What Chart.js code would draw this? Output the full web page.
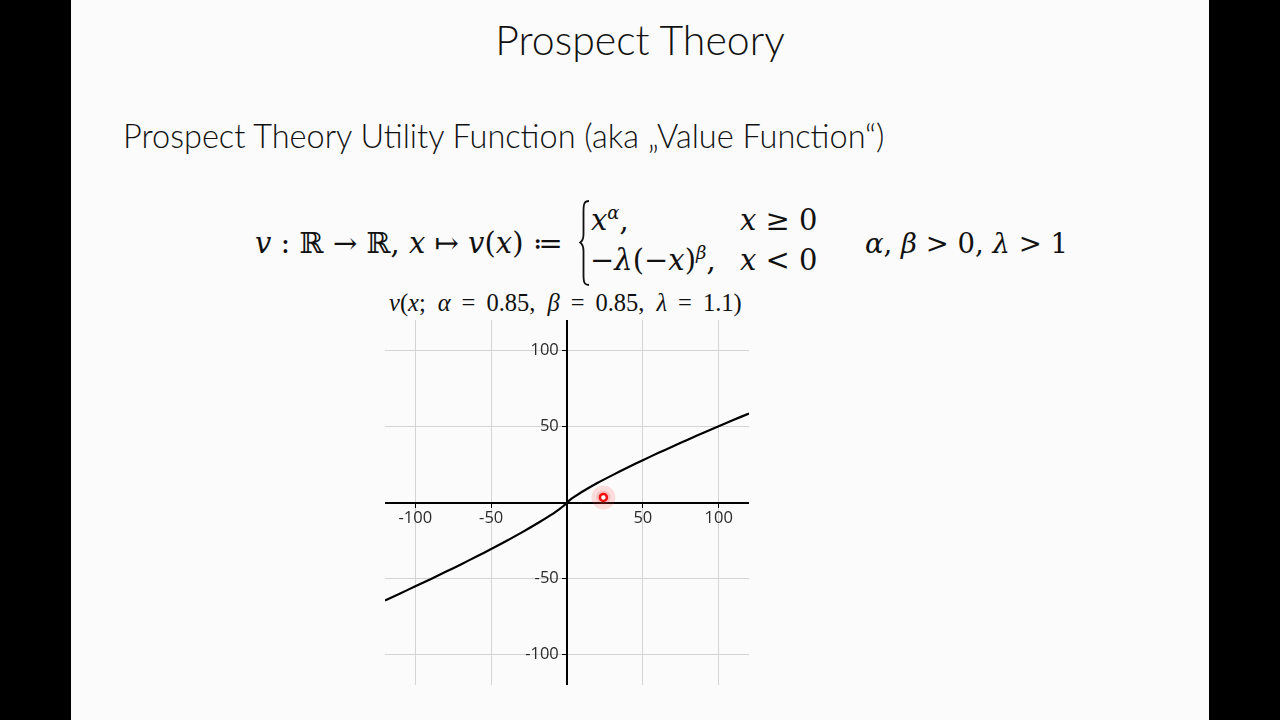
<!DOCTYPE html>
<html>
<head>
<meta charset="utf-8">
<script src="https://cdn.jsdelivr.net/npm/chart.js@4.4.1/dist/chart.umd.min.js"></script>
<style>
  html, body { margin:0; padding:0; width:1280px; height:720px; background:#000; overflow:hidden; }
  #slide { position:absolute; left:71px; top:0; width:1138px; height:720px; background:#fafbfa; }
  .t { position:absolute; white-space:nowrap; color:#111; }
  #title { left:0; width:1280px; text-align:center; top:15px; font-family:Lato, "Open Sans", sans-serif; font-weight:300; font-size:41px; }
  #sub { left:123px; top:116px; font-family:Lato, "Open Sans", sans-serif; font-weight:300; font-size:32.5px; }
  .m { font-family:"DejaVu Serif", "Liberation Serif", serif; font-size:29px; font-style:italic; }
  .up { font-style:normal; }
  sup { font-size:0.62em; vertical-align:0.62em; line-height:0; }
  #ctitle { left:389px; top:289px; font-family:"Liberation Serif", "DejaVu Serif", serif; font-size:24.5px; }
  #ctitle .eq { margin:0 11px; }
  #ctitle .c { margin-right:12px; }
  #cv { position:absolute; left:385px; top:320px; }
</style>
</head>
<body>
<div id="slide"></div>
<div class="t" id="title">Prospect Theory</div>
<div class="t" id="sub">Prospect Theory Utility Function (aka „Value Function“)</div>

<div class="t m" style="left:255px; top:226px;">v <span class="up">:</span> <span class="up">ℝ</span> <span class="up">→</span> <span class="up">ℝ</span><span class="up">,</span> x <span class="up">↦</span> v<span class="up">(</span>x<span class="up">)</span> <span class="up">≔</span></div>
<svg style="position:absolute; left:579px; top:200px;" width="12" height="86" viewBox="0 0 12 86">
  <path d="M10,1 C5,1 4.5,4 4.5,12 L4.5,34 C4.5,39 3.5,41 1.2,42.5 C3.5,44 4.5,46 4.5,51 L4.5,74 C4.5,82 5,85 10,85" fill="none" stroke="#111" stroke-width="1.8"/>
</svg>
<div class="t m" style="left:591px; top:203px;">x<sup>α</sup><span class="up">,</span></div>
<div class="t m" style="left:740px; top:203px;">x <span class="up">≥ 0</span></div>
<div class="t m" style="left:590px; top:243px;"><span class="up">−</span>λ<span class="up">(−</span>x<span class="up">)</span><sup>β</sup><span class="up">,</span></div>
<div class="t m" style="left:740px; top:243px;">x <span class="up">&lt; 0</span></div>
<div class="t m" style="left:865px; top:227px; font-size:27.5px;">α<span class="up">,</span> β <span class="up">&gt; 0,</span> λ <span class="up">&gt; 1</span></div>

<div class="t" id="ctitle"><i>v</i>(<i>x</i><span class="c">;</span><i>α</i><span class="eq">=</span>0.85<span class="c">,</span><i>β</i><span class="eq">=</span>0.85<span class="c">,</span><i>λ</i><span class="eq">=</span>1.1)</div>

<canvas id="cv" width="364" height="365"></canvas>

<script>
// values
const xValues = [-120,-110,-100,-90,-80,-70,-60,-50,-40,-30,-20,-10,-5,-2,0,2,5,10,20,30,40,50,60,70,80,90,100,110,120];
const vValues = [-64.4,-59.8,-55.1,-50.4,-45.6,-40.7,-35.7,-30.6,-25.3,-19.8,-14.0,-7.8,-4.3,-2.0,0,1.8,3.9,7.1,12.8,18.0,23.0,27.8,32.5,37.0,41.5,45.8,50.1,54.4,58.5];
const markerX = [24];
const markerY = [3.3];
const tickValues = [-100,-50,0,50,100];

const curve = xValues.map((x,i)=>({x:x, y:vValues[i]}));
const marker = markerX.map((x,i)=>({x:x, y:markerY[i]}));

const noPad = s => { s.paddingLeft = 0; s.paddingRight = 0; s.paddingTop = 0; s.paddingBottom = 0; };
const tickFont = { family: "'Open Sans', Lato, sans-serif", size: 16.5, weight: 400 };

new Chart(document.getElementById('cv'), {
  type: 'scatter',
  data: { datasets: [
    { data: marker, showLine:false, pointRadius:12, pointBackgroundColor:'rgba(255,70,70,0.16)', pointBorderWidth:0, order:0 },
    { data: marker, showLine:false, pointRadius:7, pointBackgroundColor:'rgba(255,40,40,0.18)', pointBorderWidth:0, order:-1 },
    { data: marker, showLine:false, pointRadius:3.5, pointBackgroundColor:'#ffffff', pointBorderColor:'#ee1111', pointBorderWidth:2.5, order:-2 },
    { data: curve, showLine:true, borderColor:'#000', borderWidth:2.2, pointRadius:0, tension:0.3, order:1 }
  ]},
  options: {
    responsive:false, animation:false, devicePixelRatio: 1,
    layout:{ padding:0, autoPadding:false },
    plugins:{ legend:{display:false}, tooltip:{enabled:false}, title:{display:false} },
    scales:{
      x:{ type:'linear', min:-120, max:120, position:{y:0},
          afterBuildTicks: s => { s.ticks = tickValues.map(v=>({value:v})); },
          afterFit: noPad,
          grid:{ color:'#d4d4d4', lineWidth:1, drawTicks:true, tickLength:4, tickColor:'#000' },
          border:{ color:'#000', width:2 },
          ticks:{ color:'#2a2a2a', font:tickFont, padding:2, maxRotation:0, callback: v => v === 0 ? '' : String(v) } },
      y:{ type:'linear', min:-120, max:120, position:{x:0},
          afterBuildTicks: s => { s.ticks = tickValues.map(v=>({value:v})); },
          afterFit: noPad,
          grid:{ color:'#d4d4d4', lineWidth:1, drawTicks:true, tickLength:4, tickColor:'#000' },
          border:{ color:'#000', width:2 },
          ticks:{ color:'#2a2a2a', font:tickFont, padding:3, callback: v => v === 0 ? '' : String(v) + '\u2009\u2009\u2009' } }
    }
  }
});
</script>
</body>
</html>
